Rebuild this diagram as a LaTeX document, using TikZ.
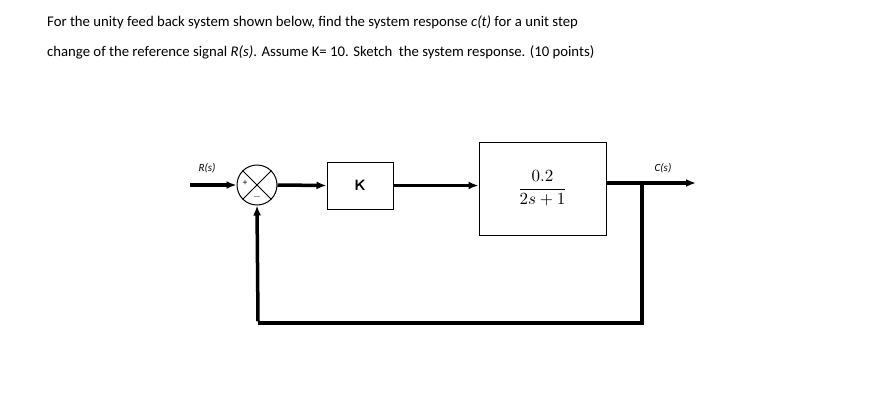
\documentclass[tikz,border=0pt]{standalone}
\usepackage{fontspec}
\setmainfont{Carlito}
\usetikzlibrary{arrows.meta}
\newcommand{\bodysize}[1]{\scalebox{1.475}{#1}}
\begin{document}
\begin{tikzpicture}[x=1pt,y=-1pt,
  sig/.style={line width=3.5pt,-{Latex[length=10pt,width=8pt]}},
  wire/.style={line width=3.5pt},
  blk/.style={draw,line width=1pt,inner sep=0pt}]
\useasboundingbox (0,0) rectangle (883,415);
\node[anchor=west,inner sep=0pt] (t1) at (47,22) {\bodysize{For the unity feed back system shown below, find the system response \textit{c(t)} for a unit step}};
\node[anchor=west,inner sep=0pt] (t2) at (47,52) {\bodysize{change of the reference signal \textit{R(s)}. Assume K= 10. Sketch \ the system response. (10 points)}};
\node[draw,circle,line width=1pt,minimum size=40pt,inner sep=0pt] (sum) at (257,185) {};
\draw[line width=1pt] (sum.north west)--(sum.south east) (sum.north east)--(sum.south west);
\node (plus) at (245,183) {\scalebox{0.9}{+}};
\node (minus) at (257,197) {$-$};
\coordinate (rin) at (190,185);
\node (rl) at (207,168) {\scalebox{1.1}{\itshape R(s)}};
\node[blk,minimum width=66pt,minimum height=47pt] (k) at (360,185.5) {\scalebox{1.5}{\sffamily\bfseries K}};
\node[blk,minimum width=127pt,minimum height=93pt] (g) at (542.5,188.5) {\scalebox{1.7}{$\displaystyle\frac{0.2}{2s+1}$}};
\coordinate (gout) at (606,183);
\coordinate (br) at (642,183);
\coordinate (out) at (696,183);
\node (cl) at (663,168) {\scalebox{1.1}{\itshape C(s)}};
\coordinate (bot) at (642,323);
\coordinate (botl) at (258,323);
\draw[sig] (rin) -- (sum.west);
\draw[sig] (sum.east) -- (k.west);
\draw[sig] (k.east) -- (k.east -| g.west);
\draw[sig] (gout) -- (out);
\draw[wire] (br) -- (bot) -- (botl);
\draw[sig] ([yshift=1.75pt]botl) -- (sum.south);
\end{tikzpicture}
\end{document}
